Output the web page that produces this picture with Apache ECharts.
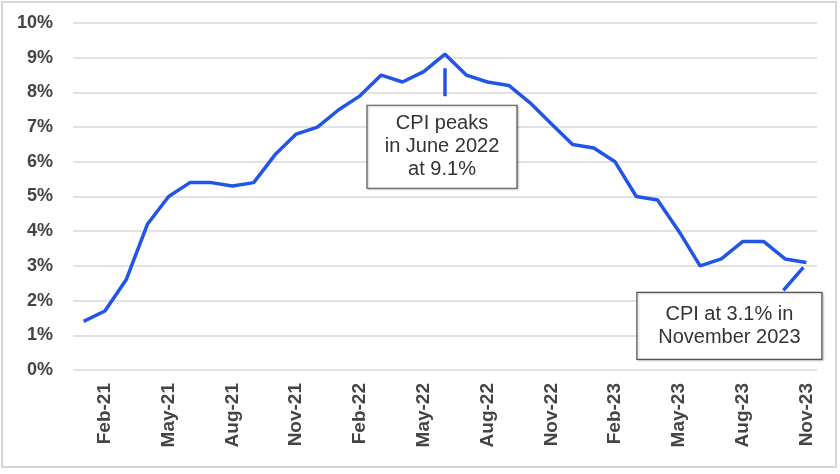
<!DOCTYPE html>
<html>
<head>
<meta charset="utf-8">
<script src="https://cdn.jsdelivr.net/npm/echarts@6/dist/echarts.min.js"></script>
<style>
  html, body { margin: 0; padding: 0; background: #fff; }
  #chart { width: 840px; height: 474px; }
</style>
</head>
<body>
<div id="chart"></div>
<script>
// monthly CPI, year over year, Jan 2021 - Nov 2023
const months = [
  'Jan-21', 'Feb-21', 'Mar-21', 'Apr-21', 'May-21', 'Jun-21', 'Jul-21', 'Aug-21', 'Sep-21', 'Oct-21', 'Nov-21', 'Dec-21',
  'Jan-22', 'Feb-22', 'Mar-22', 'Apr-22', 'May-22', 'Jun-22', 'Jul-22', 'Aug-22', 'Sep-22', 'Oct-22', 'Nov-22', 'Dec-22',
  'Jan-23', 'Feb-23', 'Mar-23', 'Apr-23', 'May-23', 'Jun-23', 'Jul-23', 'Aug-23', 'Sep-23', 'Oct-23', 'Nov-23'
]
const cpi = [
  1.4, 1.7, 2.6, 4.2, 5.0, 5.4, 5.4, 5.3, 5.4, 6.2, 6.8, 7.0,
  7.5, 7.9, 8.5, 8.3, 8.6, 9.1, 8.5, 8.3, 8.2, 7.7, 7.1, 6.5,
  6.4, 6.0, 5.0, 4.9, 4.0, 3.0, 3.2, 3.7, 3.7, 3.2, 3.1
]
const notes = [
  { at: 'Jun-22', text: 'CPI peaks\nin June 2022\nat 9.1%' },
  { at: 'Nov-23', text: 'CPI at 3.1% in\nNovember 2023' }
]

const FONT = 'Liberation Sans'
const BLUE = '#2155e6'

let myChart = echarts.init(document.getElementById('chart'))
myChart.setOption({
  animation: false,
  textStyle: { fontFamily: FONT },
  grid: { left: 73, right: 23, top: 23, bottom: 104 },
  xAxis: {
    type: 'category',
    data: months,
    boundaryGap: true,
    axisLine: { show: false },
    axisTick: { show: false },
    axisLabel: {
      rotate: 90,
      margin: 13,
      fontSize: 19,
      fontWeight: 'bold',
      color: '#444',
      interval: (i) => i % 3 === 1
    }
  },
  yAxis: {
    type: 'value',
    min: 0,
    max: 10,
    interval: 1,
    axisLine: { show: false },
    axisTick: { show: false },
    axisLabel: {
      margin: 20,
      fontSize: 18,
      fontWeight: 'bold',
      color: '#444',
      formatter: '{value}%'
    },
    splitLine: { lineStyle: { color: '#d9d9d9', width: 1.5 } }
  },
  series: [
    {
      type: 'line',
      data: cpi,
      showSymbol: false,
      lineStyle: { color: BLUE, width: 3.5 }
    }
  ]
})

// callout boxes anchored on the data points they describe
const peak = myChart.convertToPixel({ seriesIndex: 0 }, [notes[0].at, cpi[months.indexOf(notes[0].at)]])
const last = myChart.convertToPixel({ seriesIndex: 0 }, [notes[1].at, cpi[months.indexOf(notes[1].at)]])

function box (cx, top, w, h, text) {
  return {
    type: 'group',
    children: [
      {
        type: 'rect',
        shape: { x: cx - w / 2, y: top, width: w, height: h },
        style: { fill: '#fff', stroke: '#555', lineWidth: 1.2, shadowBlur: 2, shadowColor: 'rgba(0,0,0,0.25)', shadowOffsetX: 1, shadowOffsetY: 1 }
      },
      {
        type: 'text',
        x: cx,
        y: top + h / 2,
        style: {
          text: text,
          align: 'center',
          verticalAlign: 'middle',
          fontFamily: FONT,
          fontSize: 20,
          lineHeight: 23,
          fill: '#333'
        }
      }
    ]
  }
}

myChart.setOption({
  graphic: [
    {
      type: 'rect',
      shape: { x: 2, y: 2, width: 834, height: 465 },
      style: { fill: 'none', stroke: '#d6d6d6', lineWidth: 2 },
      silent: true
    },
    {
      type: 'line',
      shape: { x1: peak[0], y1: peak[1] + 14, x2: peak[0], y2: peak[1] + 42 },
      style: { stroke: BLUE, lineWidth: 3.5 }
    },
    box(peak[0] - 3, peak[1] + 51, 150, 83, notes[0].text),
    {
      type: 'line',
      shape: { x1: last[0] - 3, y1: last[1] + 5, x2: last[0] - 23, y2: last[1] + 28 },
      style: { stroke: BLUE, lineWidth: 3.5 }
    },
    box(last[0] - 77, last[1] + 30, 185, 67, notes[1].text)
  ]
})
</script>
</body>
</html>
